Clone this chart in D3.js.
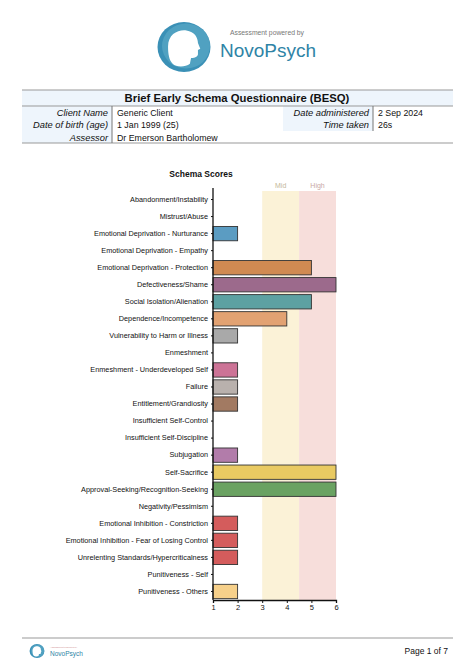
<!DOCTYPE html>
<html lang="en">
  <head>
    <meta charset="utf-8" />
    <title>BESQ - Schema Scores</title>
    <script src="https://d3js.org/d3.v7.min.js"></script>
    <style>
      body { margin: 0; background: #fff; }
      svg { display: block; font-family: "Liberation Sans", Arial, Helvetica, sans-serif; }
    </style>
  </head>
  <body>
    <script>
      // schema names, top to bottom
      var schemas = [
        "Abandonment/Instability",
        "Mistrust/Abuse",
        "Emotional Deprivation - Nurturance",
        "Emotional Deprivation - Empathy",
        "Emotional Deprivation - Protection",
        "Defectiveness/Shame",
        "Social Isolation/Alienation",
        "Dependence/Incompetence",
        "Vulnerability to Harm or Illness",
        "Enmeshment",
        "Enmeshment - Underdeveloped Self",
        "Failure",
        "Entitlement/Grandiosity",
        "Insufficient Self-Control",
        "Insufficient Self-Discipline",
        "Subjugation",
        "Self-Sacrifice",
        "Approval-Seeking/Recognition-Seeking",
        "Negativity/Pessimism",
        "Emotional Inhibition - Constriction",
        "Emotional Inhibition - Fear of Losing Control",
        "Unrelenting Standards/Hypercriticalness",
        "Punitiveness - Self",
        "Punitiveness - Others"
      ];
      var scores = [1, 1, 2, 1, 5, 6, 5, 4, 2, 1, 2, 2, 2, 1, 1, 2, 6, 6, 1, 2, 2, 2, 1, 2];
      var barColors = [
        "#c06060", "#8080b0", "#5b9cc2", "#7aa0c0", "#d08a52", "#9c6a8c",
        "#5da1a2", "#e2a272", "#a9a9a9", "#c090a0", "#cc7396", "#b9b1ad",
        "#a27a62", "#9090a0", "#a0a0a0", "#b27caa", "#e9ca62", "#6aa262",
        "#909090", "#d45c5c", "#d45c5c", "#d45c5c", "#d06060", "#f6d08a"
      ];
      var xTicks = [1, 2, 3, 4, 5, 6];
      var bandNames = ["Mid", "High"];
      var bandStart = [3, 4.5];
      var bandEnd = [4.5, 6];
      var bandColors = ["#fbf2d7", "#f7dedb"];
      var bandTextColors = ["#c4b79a", "#c9a9a6"];

      var W = 474, H = 671;
      var svg = d3.select("body").append("svg").attr("width", W).attr("height", H);

      // ---- logo ----
      function logo(g, r) {
        var s = r / 25;
        g.append("ellipse").attr("rx", r * 1.06).attr("ry", r).attr("fill", "#3a90b6");
        g.append("ellipse").attr("rx", r * 0.96).attr("ry", r * 0.9).attr("cx", r * 0.08).attr("cy", -r * 0.04)
          .attr("fill", "#62aecb").attr("opacity", 0.55);
        // head silhouette, facing right
        g.append("path")
          .attr("transform", "translate(" + (-1 * s) + "," + (3 * s) + ") scale(" + (s * 1.15) + ")")
          .attr("d", "M-13,-3 C-13,-14 -4,-18 3,-17 C10,-16 13,-11 13,-6 L15,-1 L13,0 L13,4 C12,7 9,7 7,7 L6,12 C2,15 -6,15 -9,12 C-12,9 -13,4 -13,-3 Z")
          .attr("fill", "#fff");
      }
      logo(svg.append("g").attr("transform", "translate(184,47)"), 25);
      svg.append("text").attr("x", 267).attr("y", 35).attr("text-anchor", "middle")
        .attr("font-size", 6.8).attr("fill", "#777").text("Assessment powered by");
      svg.append("text").attr("x", 268).attr("y", 57).attr("text-anchor", "middle")
        .attr("font-size", 19).attr("fill", "#2f84a6").text("NovoPsych");

      // ---- header table ----
      var tL = 22, tR = 453;
      svg.append("rect").attr("x", tL).attr("y", 90).attr("width", tR - tL).attr("height", 16).attr("fill", "#eef5fc");
      svg.append("rect").attr("x", tL).attr("y", 106).attr("width", 90).attr("height", 37).attr("fill", "#eef5fc");
      svg.append("rect").attr("x", 283).attr("y", 106).attr("width", 90).attr("height", 25).attr("fill", "#eef5fc");
      svg.append("line").attr("x1", tL).attr("x2", tR).attr("y1", 90).attr("y2", 90).attr("stroke", "#999");
      svg.append("line").attr("x1", tL).attr("x2", tR).attr("y1", 106).attr("y2", 106).attr("stroke", "#999");
      svg.append("line").attr("x1", tL).attr("x2", tR).attr("y1", 143).attr("y2", 143).attr("stroke", "#999");
      svg.append("line").attr("x1", 112).attr("x2", 112).attr("y1", 106).attr("y2", 143).attr("stroke", "#777");
      svg.append("line").attr("x1", 373).attr("x2", 373).attr("y1", 106).attr("y2", 131).attr("stroke", "#777");
      svg.append("text").attr("x", 237).attr("y", 102).attr("text-anchor", "middle")
        .attr("font-size", 11.3).attr("font-weight", "bold").attr("fill", "#111")
        .text("Brief Early Schema Questionnaire (BESQ)");

      var leftLabels = ["Client Name", "Date of birth (age)", "Assessor"];
      var leftValues = ["Generic Client", "1 Jan 1999 (25)", "Dr Emerson Bartholomew"];
      var rightLabels = ["Date administered", "Time taken"];
      var rightValues = ["2 Sep 2024", "26s"];
      leftLabels.forEach(function (t, i) {
        var y = 116 + i * 12.3;
        svg.append("text").attr("x", 108).attr("y", y).attr("text-anchor", "end")
          .attr("font-size", 9.3).attr("font-style", "italic").attr("fill", "#111").text(t);
        svg.append("text").attr("x", 117).attr("y", y).attr("font-size", 8.8).attr("fill", "#111").text(leftValues[i]);
      });
      rightLabels.forEach(function (t, i) {
        var y = 116 + i * 12.3;
        svg.append("text").attr("x", 369).attr("y", y).attr("text-anchor", "end")
          .attr("font-size", 9.3).attr("font-style", "italic").attr("fill", "#111").text(t);
        svg.append("text").attr("x", 378).attr("y", y).attr("font-size", 8.8).attr("fill", "#111").text(rightValues[i]);
      });

      // ---- chart ----
      var x = d3.scaleLinear().domain([1, 6]).range([213, 336]);
      var y = d3.scaleBand().domain(schemas).range([191, 600]).paddingInner(0.16).paddingOuter(0.08);

      svg.append("text").attr("x", 201).attr("y", 177).attr("text-anchor", "middle")
        .attr("font-size", 8.5).attr("font-weight", "bold").attr("fill", "#111").text("Schema Scores");

      var bands = svg.append("g");
      bandNames.forEach(function (n, i) {
        bands.append("rect").attr("x", x(bandStart[i])).attr("y", 191)
          .attr("width", x(bandEnd[i]) - x(bandStart[i])).attr("height", 600 - 191)
          .attr("fill", bandColors[i]);
        bands.append("text").attr("x", (x(bandStart[i]) + x(bandEnd[i])) / 2).attr("y", 188)
          .attr("text-anchor", "middle").attr("font-size", 7).attr("fill", bandTextColors[i]).text(n);
      });

      svg.append("g").selectAll("rect")
        .data(schemas.map(function (s, i) { return { name: s, v: scores[i], c: barColors[i] }; })
          .filter(function (d) { return d.v > 1; }))
        .enter().append("rect")
        .attr("x", x(1))
        .attr("y", function (d) { return y(d.name); })
        .attr("width", function (d) { return x(d.v) - x(1); })
        .attr("height", y.bandwidth())
        .attr("fill", function (d) { return d.c; })
        .attr("stroke", "#333")
        .attr("stroke-width", 0.9);

      var yAxis = svg.append("g").attr("transform", "translate(213,0)")
        .call(d3.axisLeft(y).tickSize(2).tickPadding(3));
      yAxis.select(".domain").attr("stroke", "#111").attr("stroke-width", 1.3).attr("d", "M0,188V600");
      yAxis.selectAll(".tick line").attr("stroke", "#111");
      yAxis.selectAll("text").attr("font-size", 7.3).attr("fill", "#111")
        .attr("font-family", "\"Liberation Sans\", Arial, sans-serif");

      var xAxis = svg.append("g").attr("transform", "translate(0,600)")
        .call(d3.axisBottom(x).tickValues(xTicks).tickFormat(d3.format("d")).tickSize(3).tickPadding(2));
      xAxis.select(".domain").attr("stroke", "#111").attr("stroke-width", 1.3);
      xAxis.selectAll(".tick line").attr("stroke", "#111");
      xAxis.selectAll("text").attr("font-size", 7.5).attr("fill", "#111")
        .attr("font-family", "\"Liberation Sans\", Arial, sans-serif");

      // ---- footer ----
      svg.append("line").attr("x1", tL).attr("x2", tR).attr("y1", 638).attr("y2", 638).attr("stroke", "#999");
      logo(svg.append("g").attr("transform", "translate(37,651)"), 7);
      svg.append("text").attr("x", 50).attr("y", 648).attr("font-size", 2.5).attr("fill", "#c88").text("Assessment powered by");
      svg.append("text").attr("x", 50).attr("y", 656).attr("font-size", 6.5).attr("fill", "#2f84a6").text("NovoPsych");
      svg.append("text").attr("x", 448).attr("y", 654).attr("text-anchor", "end")
        .attr("font-size", 8.5).attr("fill", "#111").text("Page 1 of 7");
    </script>
  </body>
</html>
